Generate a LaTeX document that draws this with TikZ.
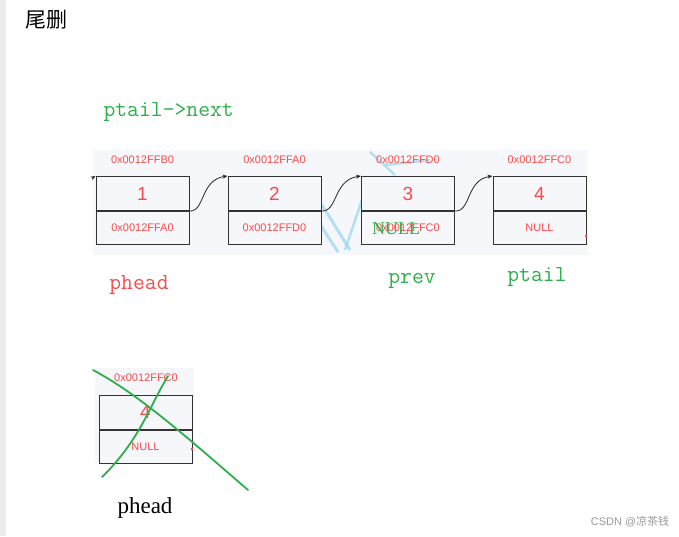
\documentclass[tikz,border=0pt]{standalone}
\usepackage{fontspec}
\usetikzlibrary{arrows.meta}
\setsansfont{Liberation Sans}
\newfontfamily\cjkfont{Noto Sans CJK SC}
\newfontfamily\seriffont{Liberation Serif}
\definecolor{addr}{RGB}{250,75,75}
\definecolor{ptrgreen}{RGB}{45,175,75}
\definecolor{panel}{RGB}{246,247,250}
\definecolor{strip}{RGB}{236,236,236}
\definecolor{wmark}{RGB}{150,215,240}
\tikzset{
  cell/.style={draw=black!80, line width=1pt, fill=panel, minimum width=93pt,
    inner sep=0pt, text=addr, font=\sffamily},
  topcell/.style={cell, minimum height=34pt, font=\sffamily\fontsize{19}{19}\selectfont},
  botcell/.style={cell, minimum height=33pt, font=\sffamily\fontsize{11}{11}\selectfont},
  addrlbl/.style={text=addr, font=\sffamily\fontsize{11}{11}\selectfont},
  ptrlbl/.style={text=ptrgreen, font=\ttfamily\fontsize{23}{23}\selectfont},
  link/.style={-{Stealth[length=5pt,width=4pt]}, line width=0.8pt, black!85}
}
\begin{document}
\begin{tikzpicture}[x=1pt,y=-1pt]
	\useasboundingbox (0,0) rectangle (679,536);
	% page strip on the left
	\fill[strip] (0,0) rectangle (6,536);
	% title
	\node[font=\cjkfont\fontsize{21}{21}\selectfont] (title) at (46,20) {尾删};
	\node[ptrlbl, anchor=west] (nextlbl) at (100,112) {ptail->next};
	% background of the list
	\fill[panel] (93,150) rectangle (588,255);
	% watermark strokes
	\draw[wmark, line width=3pt, opacity=0.7] (312,212) -- (338,252);
	\draw[wmark, line width=3pt, opacity=0.7] (322,205) -- (350,250);
	\draw[wmark, line width=2.5pt, opacity=0.7] (370,152) -- (395,175);
	\draw[wmark, line width=2.5pt, opacity=0.7] (385,165) -- (430,160);
	\draw[wmark, line width=2.5pt, opacity=0.7] (345,250) -- (362,200);
	% the four nodes
	\foreach \i/\x/\val/\here/\nxt in {1/142.5/1/0x0012FFB0/0x0012FFA0, 2/274.5/2/0x0012FFA0/0x0012FFD0,
	  3/408/3/0x0012FFD0/0x0012FFC0, 4/539.5/4/0x0012FFC0/NULL}{
		\node[topcell] (t\i) at (\x,193.5) {\val};
		\node[botcell, anchor=north] (b\i) at (t\i.south) {\nxt};
		\node[addrlbl] (a\i) at (\x,160) {\here};
	}
	% links
	\coordinate (in) at (93,177.5);
	\draw[link] (in) -- (t1.north west);
	\draw[link] (t1.south east) .. controls (205,212) and (200,180) .. (t2.north west);
	\draw[link] (t2.south east) .. controls (338,212) and (333,180) .. (t3.north west);
	\draw[link] (t3.south east) .. controls (471,212) and (466,180) .. (t4.north west);
	\fill[addr] (586,236) circle (1.5pt);
	% overwritten next of node 3
	\node[text=ptrgreen, font=\seriffont\fontsize{18}{18}\selectfont] (null3) at (396,229) {NULL};
	% pointer names
	\node[text=addr, font=\ttfamily\fontsize{23}{23}\selectfont] (phead) at (139,285) {phead};
	\node[ptrlbl] (prev) at (412,281) {prev};
	\node[ptrlbl] (ptail) at (537,277) {ptail};
	% removed node
	\fill[panel] (95,368) rectangle (194,462);
	\node[addrlbl] (a5) at (146,378) {0x0012FFC0};
	\node[topcell] (t5) at (145.5,412) {4};
	\node[botcell, anchor=north] (b5) at (t5.south) {NULL};
	\fill[addr] (192,449) circle (1.5pt);
	% crossed out
	\draw[ptrgreen, line width=1.8pt, line cap=round] (93,370) .. controls (140,395) and (190,440) .. (248,490);
	\draw[ptrgreen, line width=1.8pt, line cap=round] (168,376) .. controls (150,405) and (140,440) .. (102,477);
	\node[font=\seriffont\fontsize{23}{23}\selectfont] (phead2) at (145,508) {phead};
	% site mark
	\node[text=black!40, font=\sffamily\fontsize{11}{11}\selectfont] (csdn) at (630,522) {CSDN @\cjkfont 凉茶钱};
\end{tikzpicture}
\end{document}
